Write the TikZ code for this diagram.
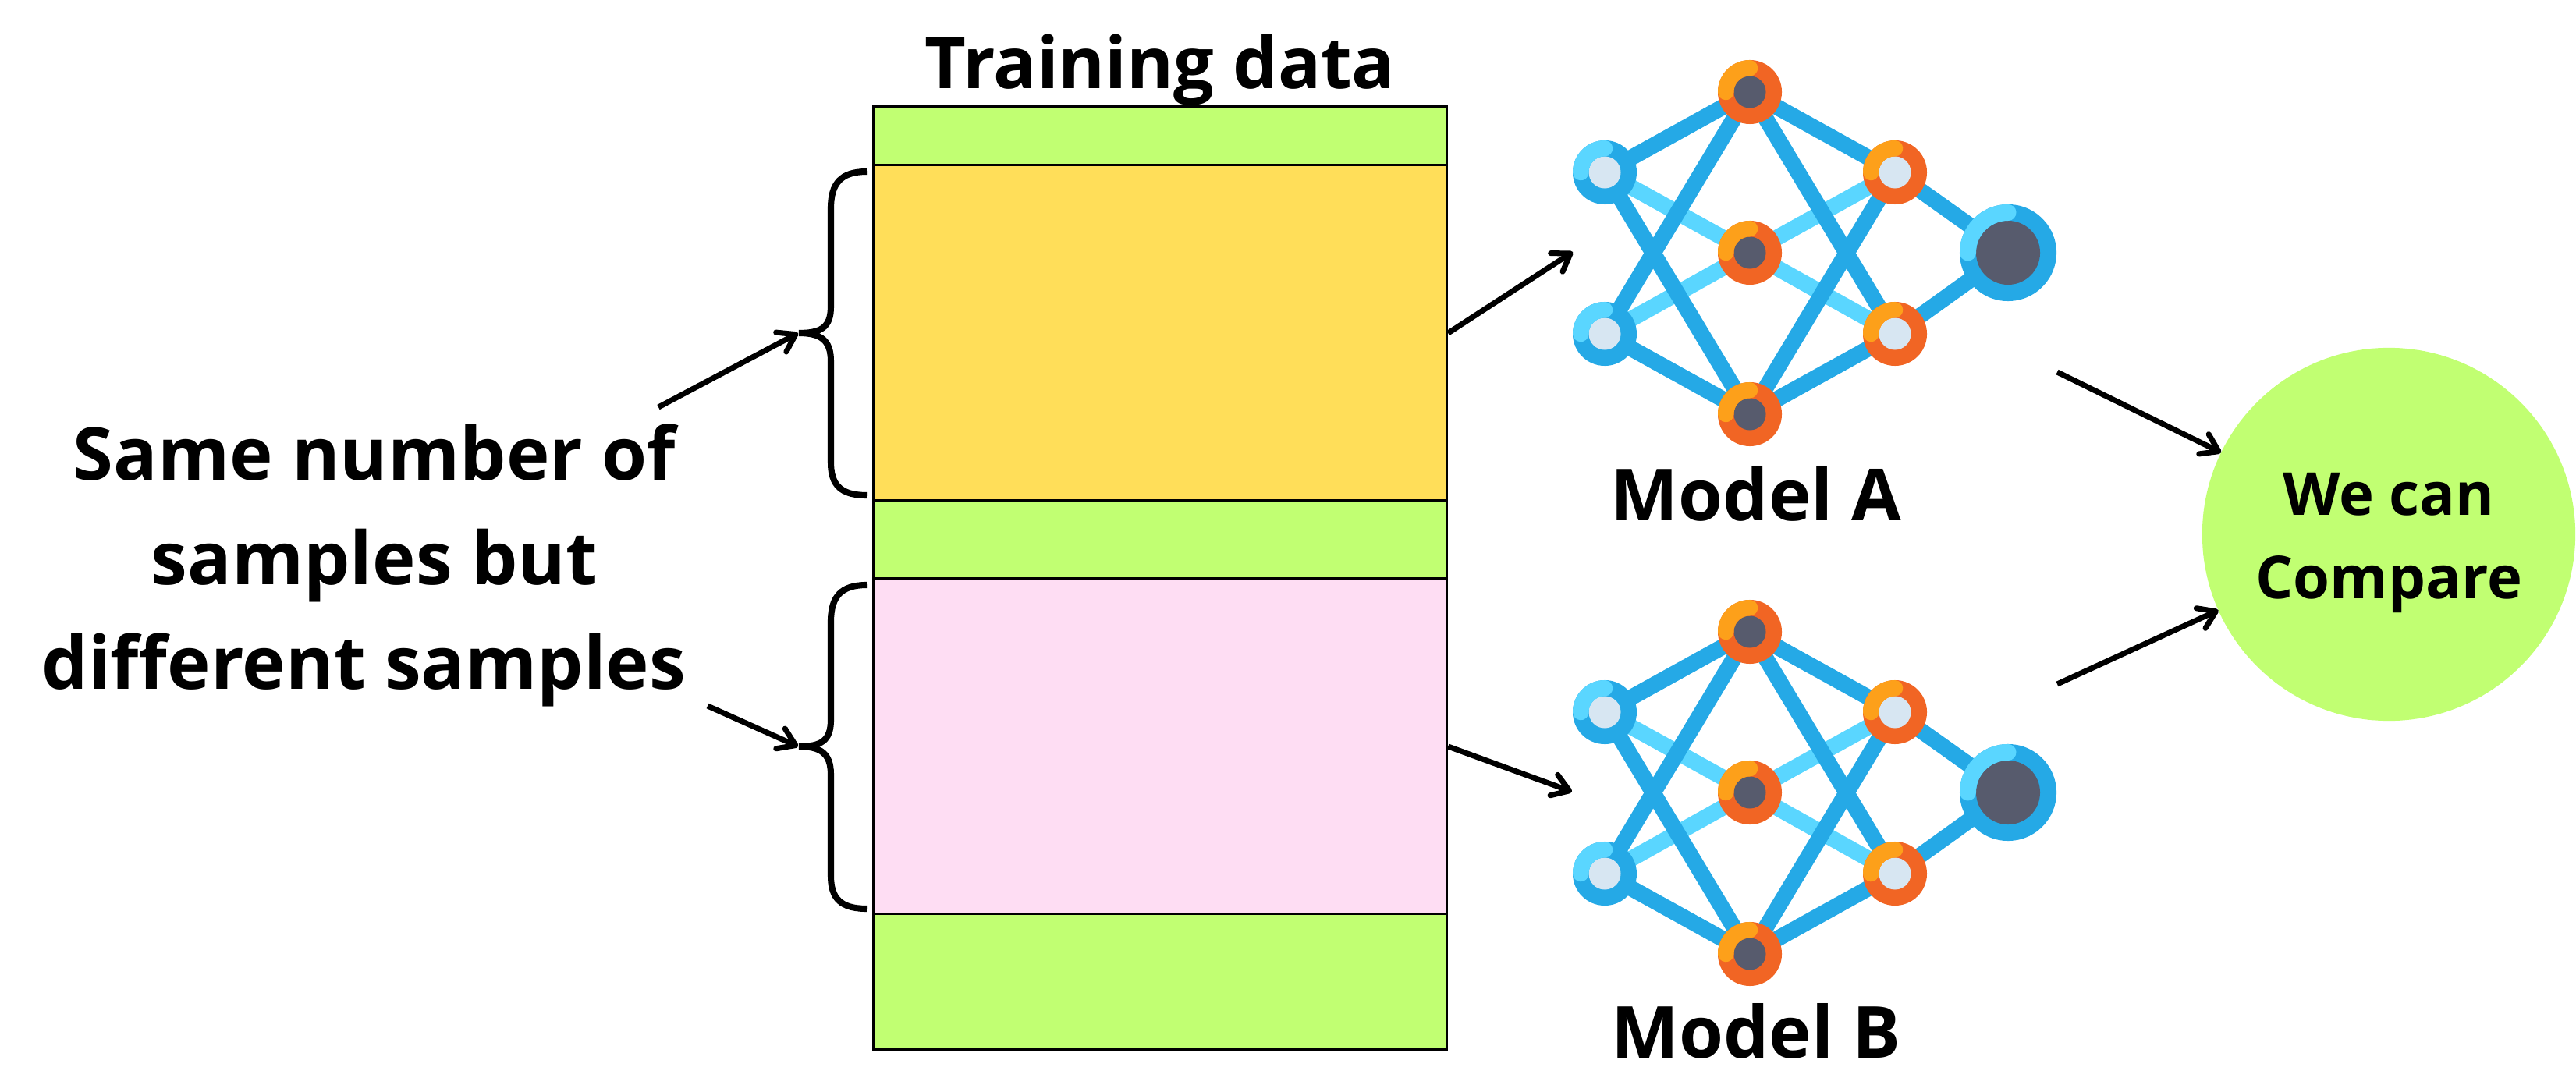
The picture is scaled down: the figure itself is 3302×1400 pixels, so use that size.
\documentclass[tikz,border=0pt]{standalone}
\usepackage{fontspec}
\setmainfont{Open Sans}
\usepackage{tikz}
\usetikzlibrary{arrows.meta,backgrounds,shapes}
\definecolor{bandGreen}{RGB}{193, 255, 114}
\definecolor{bandYellow}{RGB}{255, 222, 89}
\definecolor{bandPink}{RGB}{254, 221, 243}
\definecolor{netBlue}{RGB}{37, 169, 230}
\definecolor{netSky}{RGB}{90, 214, 255}
\definecolor{netOrange}{RGB}{241, 101, 36}
\definecolor{netAmber}{RGB}{253, 160, 26}
\definecolor{netSlate}{RGB}{87, 91, 109}
\definecolor{netPale}{RGB}{215, 230, 242}
\tikzset{
    databand/.style={draw=black,line width=3*0.2845pt,minimum width=7.35cm,inner sep=0pt},
    ringnode/.style n args={5}{circle,fill=#1,inner sep=0pt,outer sep=0pt,minimum size={2*#4 cm},
        path picture={
            \pgfmathsetmacro{\ringrad}{(#4+#5)/2}
            \pgfmathsetmacro{\ringwd}{#4-#5}
            \fill[#3] (path picture bounding box.center) circle[radius=#5 cm];
            \draw[#2,line width=\ringwd cm,line cap=round] ([shift={(90:\ringrad cm)}]path picture bounding box.center)
                arc[start angle=90,end angle=180,radius=\ringrad cm];
        }},
    strongedge/.style={netBlue,line width=0.205cm},
    softedge/.style={netSky,line width=0.205cm},
    pointer/.style={line width=2pt,-{Straight Barb[length=6pt,width=8pt,round]}},
    bracket/.style={line width=2.3pt},
    bigtext/.style={font=\fontsize{26.7}{38.1}\selectfont\bfseries,inner sep=0pt,anchor=base,align=center},
    modeltext/.style={font=\fontsize{26.2}{32}\selectfont\bfseries,inner sep=0pt,anchor=base}
}
\newcommand{\drawmodel}[2]{
    \begin{scope}[shift={(0,#2)}]
        \node[ringnode={netBlue}{netSky}{netPale}{0.41}{0.205}] (#1in1) at (2057,221) {};
        \node[ringnode={netBlue}{netSky}{netPale}{0.41}{0.205}] (#1in2) at (2057,428) {};
        \node[ringnode={netOrange}{netAmber}{netSlate}{0.41}{0.205}] (#1top) at (2243,118) {};
        \node[ringnode={netOrange}{netAmber}{netSlate}{0.41}{0.205}] (#1mid) at (2243,324) {};
        \node[ringnode={netOrange}{netAmber}{netSlate}{0.41}{0.205}] (#1bot) at (2243,531) {};
        \node[ringnode={netOrange}{netAmber}{netPale}{0.41}{0.205}] (#1hid1) at (2429,221) {};
        \node[ringnode={netOrange}{netAmber}{netPale}{0.41}{0.205}] (#1hid2) at (2429,428) {};
        \node[ringnode={netBlue}{netSky}{netSlate}{0.62}{0.41}] (#1end) at (2574,324) {};
    \end{scope}
    \begin{pgfonlayer}{background}
        \draw[softedge] (#1in1.center) -- (#1mid.center) -- (#1hid2.center);
        \draw[softedge] (#1in2.center) -- (#1mid.center) -- (#1hid1.center);
        \draw[strongedge] (#1in1.center) -- (#1top.center) -- (#1hid1.center) -- (#1end.center) -- (#1hid2.center) -- (#1bot.center) -- (#1in2.center);
        \draw[strongedge] (#1in1.center) -- (#1bot.center) -- (#1hid1.center);
        \draw[strongedge] (#1in2.center) -- (#1top.center) -- (#1hid2.center);
    \end{pgfonlayer}
}
\begin{document}
\begin{tikzpicture}[x=0.01cm,y=-0.01cm]
        \useasboundingbox (0,0) rectangle (3302,1400);

        \node[databand,fill=bandGreen,minimum height=0.75cm] (bandtop) at (1487,174.5) {};
        \node[databand,fill=bandYellow,minimum height=4.30cm] (bandA) at (1487,427) {};
        \node[databand,fill=bandGreen,minimum height=1.00cm] (bandmid) at (1487,692) {};
        \node[databand,fill=bandPink,minimum height=4.30cm] (bandB) at (1487,957) {};
        \node[databand,fill=bandGreen,minimum height=1.73cm] (bandbot) at (1487,1258.5) {};

        \node[modeltext,font=\fontsize{26}{32}\selectfont\bfseries] (trainlabel) at (1487,114) {Training data};
        \node[bigtext] (samelabel) at (480,883) {Same number of\\samples but\\different samples\hspace{7.7pt}\mbox{}};
        \node[modeltext] (labelA) at (2251,667) {Model A};
        \node[modeltext] (labelB) at (2251,1356) {Model B};

        \node[circle,fill=bandGreen,inner sep=0pt,outer sep=0pt,minimum size=4.78cm] (compare) at (3062,685) {};
        \node[inner sep=0pt,align=center,font=\fontsize{21.6}{30.5}\selectfont\bfseries] (comparelabel) at (3062,696) {We can\\Compare};

        \drawmodel{A}{0}
        \drawmodel{B}{692}

        \draw[bracket] (1111,220) .. controls (1078,220) and (1065,235) .. (1065,267) -- (1065,393) .. controls (1065,420) and (1052,427) .. (1024,427) .. controls (1052,427) and (1065,436) .. (1065,463) -- (1065,593) .. controls (1065,622) and (1078,635) .. (1111,635);
        \draw[bracket] (1111,750) .. controls (1078,750) and (1065,765) .. (1065,797) -- (1065,923) .. controls (1065,950) and (1052,957) .. (1024,957) .. controls (1052,957) and (1065,966) .. (1065,993) -- (1065,1123) .. controls (1065,1152) and (1078,1165) .. (1111,1165);

        \coordinate (tailA) at (844,522);
        \coordinate (tailB) at (907,905);
        \coordinate (braceA) at (1023,427);
        \coordinate (braceB) at (1023,957);
        \coordinate (inputA) at (2016,323);
        \coordinate (inputB) at (2015,1015);
        \coordinate (outputA) at (2637,477);
        \coordinate (outputB) at (2637,877);

        \draw[pointer] (tailA) -- (braceA);
        \draw[pointer] (tailB) -- (braceB);
        \draw[pointer] (bandA.east) -- (inputA);
        \draw[pointer] (bandB.east) -- (inputB);
        \draw[pointer] (outputA) -- (compare.154);
        \draw[pointer] (outputB) -- (compare.204);
    \end{tikzpicture}
\end{document}
